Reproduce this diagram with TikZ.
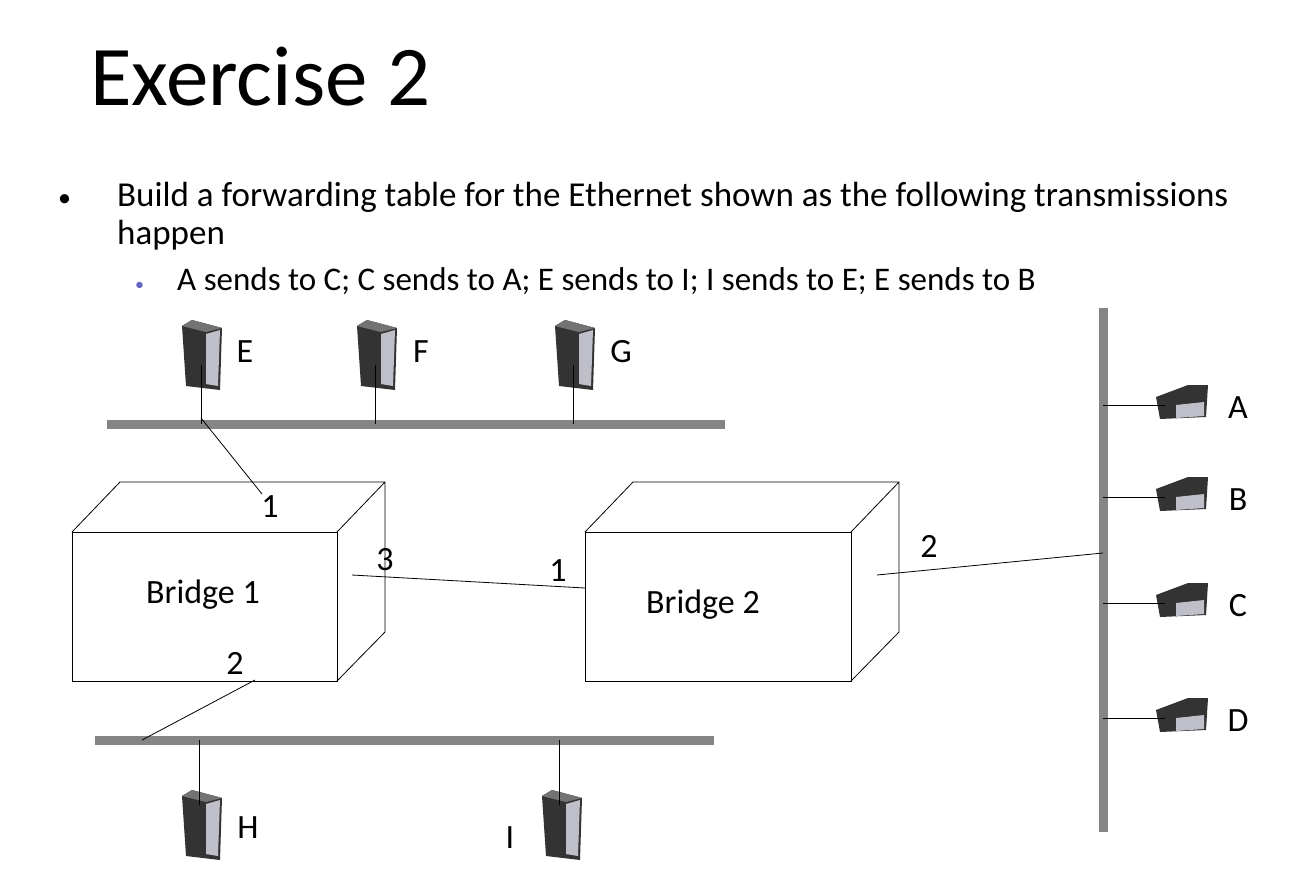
\documentclass[tikz,border=0pt]{standalone}
\usepackage{fontspec}
\setmainfont{Carlito}
\begin{document}
\begin{tikzpicture}[x=1pt,y=-1pt,
  bus/.style={line width=9pt,draw=black!48},
  wire/.style={line width=0.8pt},
  lbl/.style={font=\fontsize{34}{36}\selectfont,inner sep=0pt},
  box/.style={line width=0.8pt},
  tower/.pic={
    \fill[black!80] (-18,-30) -- (-8,-36) -- (22,-28) -- (20,34) -- (-14,30) -- cycle;
    \fill[black!55] (-18,-30) -- (-8,-36) -- (22,-28) -- (6,-24) -- cycle;
    \fill[blue!15!black!25] (6,-22) -- (20,-26) -- (18,30) -- (6,28) -- cycle;
  },
  desk/.pic={
    \fill[black!80] (-24,-8) -- (8,-20) -- (28,-20) -- (26,12) -- (-20,14) -- cycle;
    \fill[blue!15!black!25] (-4,0) -- (24,-3) -- (24,11) -- (-4,13) -- cycle;
  }]
\useasboundingbox (0,0) rectangle (1290,895);
\node[anchor=base west,inner sep=0pt,font=\fontsize{85}{85}\selectfont] (title) at (90,105) {Exercise 2};
\node[anchor=base west,inner sep=0pt,font=\fontsize{26}{30}\selectfont] (b1) at (58,206) {•};
\node[anchor=base west,inner sep=0pt,font=\fontsize{35}{38}\selectfont] (t1) at (117,206) {Build a forwarding table for the Ethernet shown as the following transmissions};
\node[anchor=base west,inner sep=0pt,font=\fontsize{35}{38}\selectfont] (t2) at (117,244) {happen};
\node[anchor=base west,inner sep=0pt,text=blue!60!black!60,font=\fontsize{18}{20}\selectfont] (b2) at (135,290) {•};
\node[anchor=base west,inner sep=0pt,font=\fontsize{33}{30}\selectfont] (t3) at (177,290) {A sends to C; C sends to A; E sends to I; I sends to E; E sends to B};

% buses
\draw[bus] (107,424) coordinate (tb1) -- (725,424) coordinate (tb2);
\draw[bus] (95,740) coordinate (bb1) -- (714,740) coordinate (bb2);
\draw[bus] (1103,308) coordinate (rb1) -- (1103,832) coordinate (rb2);

% towers
\foreach \n/\x/\y in {E/200/356,F/375/356,G/573/356,H/200/826,I/560/826}{
  \pic at (\x,\y) {tower};
}
\draw[wire] (201,365) coordinate (eE) -- (201,424) coordinate (eEb);
\draw[wire] (375,365) coordinate (eF) -- (375,424);
\draw[wire] (573,365) coordinate (eG) -- (573,424);
\draw[wire] (199,740) -- (199,805) coordinate (eH);
\draw[wire] (559,740) -- (559,805) coordinate (eI);
\node[lbl] (lE) at (245,352) {E};
\node[lbl] (lF) at (421,352) {F};
\node[lbl] (lG) at (621,352) {G};
\node[lbl] (lH) at (248,828) {H};
\node[lbl] (lI) at (510,838) {I};

% desktops
\foreach \y/\l in {405/A,497/B,603/C,718/D}{
  \pic at (1180,\y) {desk};
  \draw[wire] (1103,\y) -- (1165,\y);
  \node[lbl] (l\l) at (1238,\y+3) {\l};
}

% bridges
\draw[box] (72,532) rectangle (337,681);
\draw[box] (72,532) -- (120,482) -- (385,482) -- (385,632) -- (337,681) (337,532) -- (385,482);
\node[lbl] (br1) at (203,595) {Bridge 1};
\draw[box] (585,532) rectangle (851,681);
\draw[box] (585,532) -- (633,482) -- (899,482) -- (899,632) -- (851,681) (851,532) -- (899,482);
\node[lbl] (br2) at (703,605) {Bridge 2};

% links
\draw[wire] (201,418) -- (262,494);
\node[lbl] (p11) at (270,507) {1};
\draw[wire] (352,575) -- (585,588);
\node[lbl] (p13) at (385,560) {3};
\node[lbl] (p21) at (558,571) {1};
\draw[wire] (255,680) -- (142,740);
\node[lbl] (p12) at (235,663) {2};
\draw[wire] (877,575) -- (1103,553);
\node[lbl] (p22) at (929,546) {2};
\end{tikzpicture}
\end{document}
